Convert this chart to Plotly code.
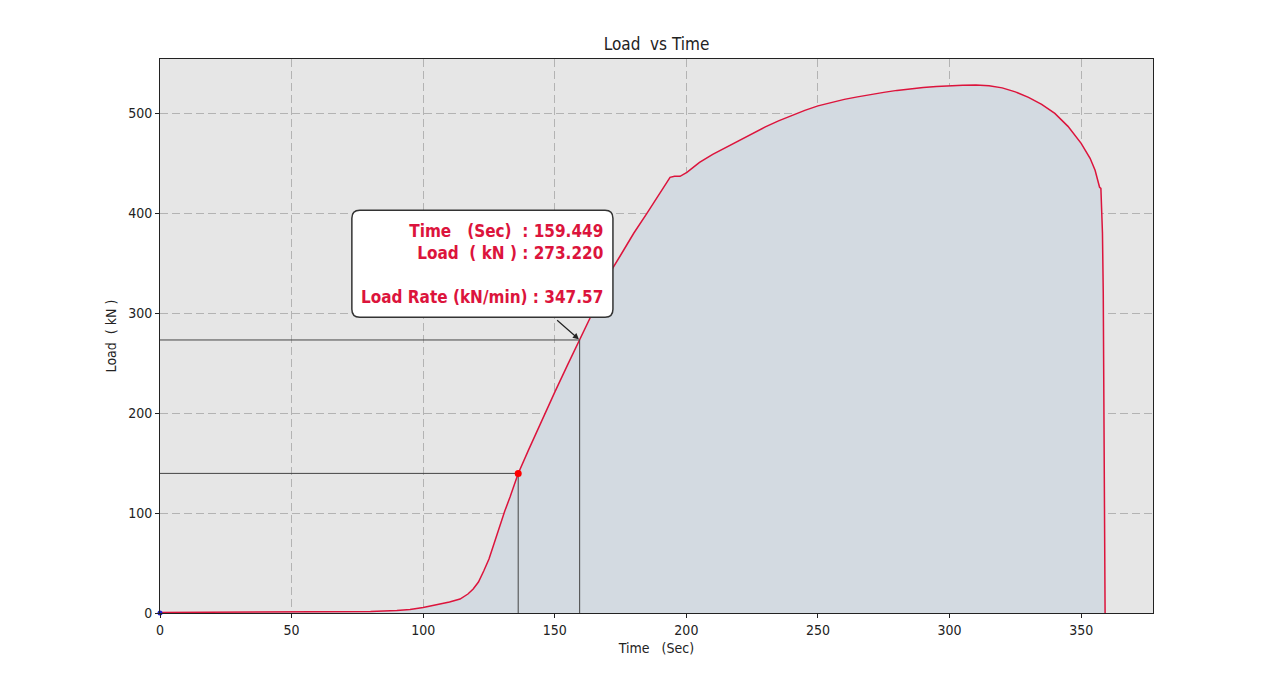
import plotly.graph_objects as go

# ---------------- data ----------------
time_s = [0, 10, 20, 30, 40, 50, 60, 70, 80, 90, 95, 100, 105, 110, 114, 117, 119, 121, 123, 125,
          127, 129, 131, 133, 136.1, 140, 146.3, 150, 155, 159.449, 165, 170, 172.2, 175, 180, 185,
          190, 193.8, 195.5, 197.6, 200.2, 205, 210, 215, 220, 225, 230, 235, 240, 245, 250,
          255, 260, 265, 270, 275, 280, 285, 290, 295, 300, 305, 310, 315, 320, 325, 330, 335,
          340, 345, 350, 353.4, 355.3, 356.5, 357.0, 357.5, 357.8, 358.1, 358.4, 358.7, 359.0, 359.1]
load_kn = [0.5, 0.6, 0.7, 0.8, 0.9, 1.0, 1.1, 1.3, 1.6, 2.5, 3.5, 5.5, 8, 11, 14, 19, 24, 31, 42, 54,
           70, 87, 102, 116, 139.7, 163, 200, 221, 249, 273.22, 304, 333, 346, 358, 380, 400,
           420, 436, 437, 437, 441, 451, 459, 466, 473, 480, 486.5, 492.5, 498, 503, 507.5,
           511, 514, 516.5, 519, 521, 523, 524.8, 526, 527, 527.7, 528.1, 528.3, 527.7, 525.5, 521.5, 516, 509,
           500, 487, 470, 455, 443, 430, 426, 425, 405, 380, 320, 200, 20, 0]

point1 = (136.1, 139.7)          # marked point
point2 = (159.449, 273.22)       # annotated point
load_rate = 347.57

x_ticks = [0, 50, 100, 150, 200, 250, 300, 350]
y_ticks = [0, 100, 200, 300, 400, 500]

FONT = "DejaVu Sans Condensed, DejaVu Sans, sans-serif"
RED = "#dc143c"

fig = go.Figure()

fig.add_trace(go.Scatter(x=time_s, y=load_kn, mode="lines", fill="tozeroy",
                         fillcolor="#d3dae1", line=dict(color=RED, width=1.5),
                         hoverinfo="skip"))

for (px, py) in (point1, point2):
    fig.add_trace(go.Scatter(x=[0, px, px], y=[py, py, 0], mode="lines",
                             line=dict(color="#444444", width=1), hoverinfo="skip"))

fig.add_trace(go.Scatter(x=[point1[0]], y=[point1[1]], mode="markers",
                         marker=dict(color="red", size=7), hoverinfo="skip"))
fig.add_trace(go.Scatter(x=[time_s[0]], y=[0], mode="markers",
                         marker=dict(color="#1f1fcc", size=5), cliponaxis=False, hoverinfo="skip"))

# rounded annotation box (data coords; 1 px = 1/2.632 s horizontally, 1 kN vertically)
bx0, bx1, by0, by1 = 72.9, 172.1, 296, 403
rx, ry = 3.0, 8.0
path = (f"M {bx0+rx},{by0} L {bx1-rx},{by0} Q {bx1},{by0} {bx1},{by0+ry} "
        f"L {bx1},{by1-ry} Q {bx1},{by1} {bx1-rx},{by1} L {bx0+rx},{by1} "
        f"Q {bx0},{by1} {bx0},{by1-ry} L {bx0},{by0+ry} Q {bx0},{by0} {bx0+rx},{by0} Z")
fig.add_shape(type="path", path=path, xref="x", yref="y", fillcolor="white",
              line=dict(color="#333333", width=1.5), layer="above")

nb = "\u00a0"
txt = (f"<b>Time{nb*3}(Sec){nb*2}: {point2[0]:.3f}</b><br>"
       f"<b>Load{nb*2}({nb}kN{nb}) : {point2[1]:.3f}</b><br>{nb}<br>"
       f"<b>Load Rate (kN/min) : {load_rate:.2f}</b>")
fig.add_annotation(x=169.2, y=349.7, xref="x", yref="y", text=txt, showarrow=False,
                   xanchor="right", yanchor="middle", align="right",
                   font=dict(family=FONT, size=17, color=RED))
fig.add_annotation(x=point2[0], y=point2[1], xref="x", yref="y", text="", showarrow=True,
                   ax=-24, ay=-21, arrowhead=2, arrowsize=1, arrowwidth=1.2,
                   arrowcolor="#222222", standoff=1)

axis_common = dict(showline=True, linecolor="#222222", linewidth=1, mirror=True,
                   ticks="outside", ticklen=4, tickcolor="#222222",
                   showgrid=True, gridcolor="#b3b3b3", gridwidth=1, griddash="8px,4px",
                   zeroline=False, tickfont=dict(family=FONT, size=14, color="#222222"))

fig.update_xaxes(range=[0, 377.3], tickvals=x_ticks, **axis_common,
                 title=dict(text=f"Time{nb*3}(Sec)", font=dict(family=FONT, size=14, color="#222222"),
                            standoff=6))
fig.update_yaxes(range=[0, 554.4], tickvals=y_ticks, **axis_common,
                 title=dict(text=f"Load{nb*2}({nb}kN{nb})", font=dict(family=FONT, size=14, color="#222222"),
                            standoff=8))

fig.update_layout(
    width=1280, height=695, autosize=False,
    margin=dict(l=160, r=127, t=59, b=82),
    paper_bgcolor="white", plot_bgcolor="#e6e6e6",
    showlegend=False,
    title=dict(text=f"Load{nb*2}vs Time", x=0.5, xref="paper", y=1 - 44 / 695, yref="container",
               xanchor="center", yanchor="middle", font=dict(family=FONT, size=17, color="#222222")),
)

fig.write_html("out.html")
